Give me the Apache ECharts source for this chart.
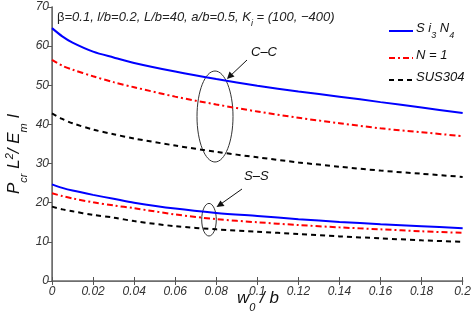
<!DOCTYPE html>
<html><head><meta charset="utf-8">
<script src="https://cdn.jsdelivr.net/npm/echarts@6/dist/echarts.min.js"></script>
<style>html,body{margin:0;padding:0;background:#fff}#c{width:474px;height:323px}</style>
</head><body><div id="c"></div>
<script>
var xValues = [0, 0.005, 0.01, 0.02, 0.03, 0.04, 0.06, 0.08, 0.10, 0.12, 0.14, 0.16, 0.18, 0.20];
var si3n4CC = [64.6, 62.5, 60.9, 58.6, 57.1, 55.7, 53.5, 51.6, 49.9, 48.4, 47.1, 45.7, 44.3, 42.9];
var n1CC    = [56.5, 55.0, 54.0, 52.3, 50.8, 49.5, 47.1, 45.1, 43.3, 41.7, 40.3, 39.0, 38.0, 37.0];
var susCC   = [42.8, 41.4, 40.3, 38.7, 37.5, 36.4, 34.6, 33.0, 31.6, 30.3, 29.2, 28.2, 27.4, 26.6];
var si3n4SS = [24.7, 23.8, 23.1, 22.0, 21.0, 20.0, 18.5, 17.4, 16.6, 15.8, 15.1, 14.5, 14.0, 13.5];
var n1SS    = [22.4, 21.7, 21.1, 20.1, 19.3, 18.6, 17.0, 15.8, 15.0, 14.3, 13.7, 13.2, 12.7, 12.3];
var susSS   = [19.0, 18.3, 17.8, 16.9, 16.2, 15.3, 14.0, 13.2, 12.6, 12.0, 11.4, 10.9, 10.4, 10.0];
var legendNames = ['Si3N4', 'N = 1', 'SUS304'];
var xTicks = { min: 0, max: 0.2, interval: 0.02 };
var yTicks = { min: 0, max: 70, interval: 10 };

function pairs(ys) { return xValues.map(function (x, i) { return [x, ys[i]]; }); }

var FONT = '"Liberation Sans", Arial, sans-serif';
var styles = {
  'Si3N4': { color: '#0000ff', type: 'solid' },
  'N = 1': { color: '#ff0000', type: [6, 3, 2, 3] },
  'SUS304': { color: '#000000', type: [5, 4] }
};
function mk(name, ys) {
  return {
    name: name, type: 'line', data: pairs(ys), showSymbol: false, symbol: 'none',
    smooth: 0.3, animation: false,
    lineStyle: { color: styles[name].color, width: 2, type: styles[name].type },
    itemStyle: { color: styles[name].color }
  };
}

var axisLine = { show: true, lineStyle: { color: '#6e6e6e', width: 1.5 } };
var tickLab = { fontFamily: FONT, fontStyle: 'italic', fontSize: 12, color: '#333' };

var chart = echarts.init(document.getElementById('c'), null, { renderer: 'canvas' });
var option = {
  animation: false,
  backgroundColor: '#fff',
  grid: { left: 52, right: 10, top: 7, bottom: 42, containLabel: false },
  xAxis: [{
    type: 'value', min: xTicks.min, max: xTicks.max, interval: xTicks.interval,
    axisLine: axisLine, splitLine: { show: false },
    axisTick: { inside: true, length: 4, lineStyle: { color: '#555' } },
    axisLabel: Object.assign({ margin: 5, formatter: function (v) { return String(Number(v.toFixed(2))); } }, tickLab)
  }, {
    type: 'value', position: 'top', min: xTicks.min, max: xTicks.max, interval: xTicks.interval,
    axisLine: { show: true, lineStyle: { color: '#6e6e6e', width: 1 } }, splitLine: { show: false },
    axisTick: { inside: true, length: 4, lineStyle: { color: '#555' } }, axisLabel: { show: false }
  }],
  yAxis: [{
    type: 'value', min: yTicks.min, max: yTicks.max, interval: yTicks.interval,
    axisLine: axisLine, splitLine: { show: false },
    axisTick: { inside: false, length: 3, lineStyle: { color: '#555' } },
    axisLabel: Object.assign({ margin: 3 }, tickLab)
  }, {
    type: 'value', position: 'right', min: yTicks.min, max: yTicks.max, interval: yTicks.interval,
    axisLine: { show: true, lineStyle: { color: '#6e6e6e', width: 1 } }, splitLine: { show: false },
    axisTick: { inside: true, length: 4, lineStyle: { color: '#555' } }, axisLabel: { show: false }
  }],
  legend: {
    data: legendNames, orient: 'vertical', left: 383, top: 17, itemWidth: 24, itemHeight: 10,
    itemGap: 9, selectedMode: false,
    itemStyle: { opacity: 0 },
    lineStyle: { width: 2 },
    formatter: function (n) {
      if (n === 'Si3N4') return '{m|S i}{s|3}{m| N}{s|4}';
      return '{m|' + n + '}';
    },
    textStyle: {
      fontFamily: FONT, fontStyle: 'italic', fontSize: 13, color: '#111', padding: [0, 0, 0, -2],
      rich: {
        m: { fontFamily: FONT, fontStyle: 'italic', fontSize: 13, color: '#111', padding: [0, 0, 5, 0], verticalAlign: 'bottom' },
        s: { fontFamily: FONT, fontStyle: 'italic', fontSize: 9, color: '#111', verticalAlign: 'bottom' }
      }
    }
  },
  series: [
    mk('Si3N4', si3n4CC), mk('N = 1', n1CC), mk('SUS304', susCC),
    mk('Si3N4', si3n4SS), mk('N = 1', n1SS), mk('SUS304', susSS)
  ],
  graphic: [
    { type: 'text', left: 57, top: 11, style: {
      text: '{n|β}{i|=0.1, l/b=0.2, L/b=40, a/b=0.5, K}{s|i}{i| = (100, −400)}',
      rich: {
        n: { fontFamily: FONT, fontSize: 13, fill: '#222', padding: [0, 0, 4, 0], verticalAlign: 'bottom' },
        i: { fontFamily: FONT, fontStyle: 'italic', fontSize: 13, fill: '#222', padding: [0, 0, 4, 0], verticalAlign: 'bottom' },
        s: { fontFamily: FONT, fontStyle: 'italic', fontSize: 9, fill: '#222', verticalAlign: 'bottom' }
      } } },
    { type: 'ellipse', shape: { cx: 215, cy: 116.5, rx: 18, ry: 45.5 }, style: { fill: 'none', stroke: '#333', lineWidth: 1 } },
    { type: 'line', shape: { x1: 247, y1: 60, x2: 228, y2: 78 }, style: { stroke: '#111', lineWidth: 1 } },
    { type: 'polygon', shape: { points: [[227, 79], [229.5, 71.5], [234.5, 76.5]] }, style: { fill: '#111' } },
    { type: 'text', left: 251, top: 46, style: { text: 'C–C', font: 'italic 13px ' + FONT, fill: '#111' } },
    { type: 'ellipse', shape: { cx: 209, cy: 219.7, rx: 7.3, ry: 16.3 }, style: { fill: 'none', stroke: '#333', lineWidth: 1 } },
    { type: 'line', shape: { x1: 242, y1: 189, x2: 218, y2: 206 }, style: { stroke: '#111', lineWidth: 1 } },
    { type: 'polygon', shape: { points: [[216.5, 207], [220.5, 200.5], [224.5, 206]] }, style: { fill: '#111' } },
    { type: 'text', left: 244, top: 170, style: { text: 'S–S', font: 'italic 13px ' + FONT, fill: '#111' } },
    { type: 'text', left: 237, top: 290, style: {
      text: '{m|w}{s|0}{m| / b}',
      rich: {
        m: { fontFamily: FONT, fontStyle: 'italic', fontSize: 17, fill: '#111', padding: [0, 0, 6, 0], verticalAlign: 'bottom' },
        s: { fontFamily: FONT, fontStyle: 'italic', fontSize: 11, fill: '#111', verticalAlign: 'bottom' }
      } } },
    { type: 'text', x: 4, y: 194, rotation: Math.PI / 2, style: {
      text: '{m|P}{s|cr}{m| L}{p|2}{m|/ E}{s|m}{m| I}',
      rich: {
        m: { fontFamily: FONT, fontStyle: 'italic', fontSize: 17, fill: '#111', padding: [0, 0, 6, 0], verticalAlign: 'bottom' },
        s: { fontFamily: FONT, fontStyle: 'italic', fontSize: 11, fill: '#111', verticalAlign: 'bottom' },
        p: { fontFamily: FONT, fontStyle: 'italic', fontSize: 11, fill: '#111', padding: [0, 0, 14, 0], verticalAlign: 'bottom' }
      } } }
  ]
};
chart.setOption(option);
</script>
</body></html>
